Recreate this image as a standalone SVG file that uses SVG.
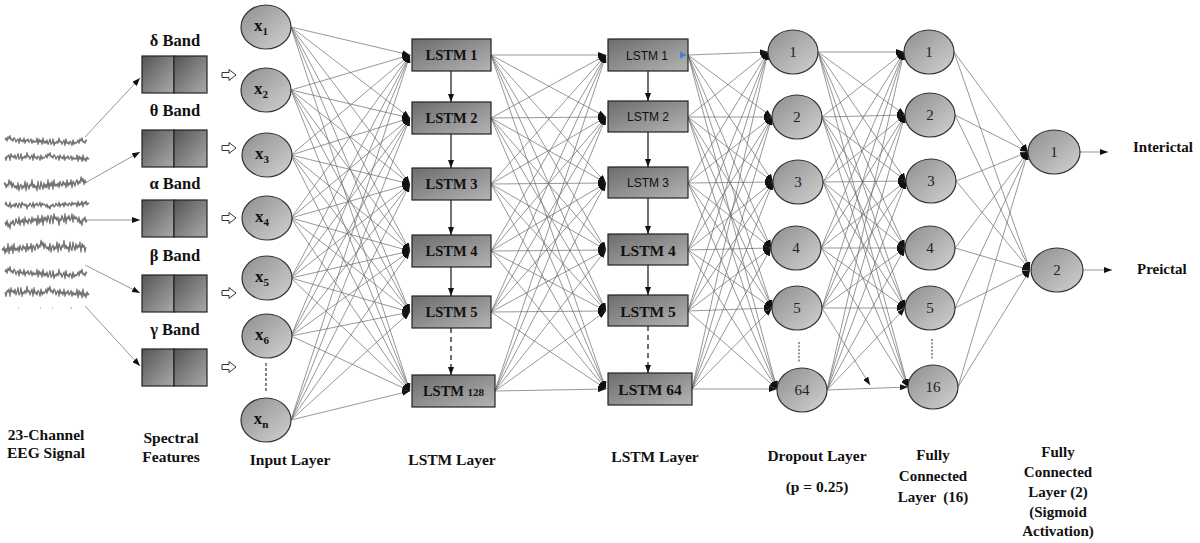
<svg xmlns="http://www.w3.org/2000/svg" width="1200" height="543" viewBox="0 0 1200 543">
<defs>
<linearGradient id="ng" x1="0" y1="0" x2="1" y2="1"><stop offset="0" stop-color="#8e8e8e"/><stop offset="1" stop-color="#d2d2d2"/></linearGradient>
<linearGradient id="bg" x1="0" y1="0" x2="1" y2="1"><stop offset="0" stop-color="#6c6c6c"/><stop offset="1" stop-color="#b4b4b4"/></linearGradient>
<linearGradient id="fg" x1="0" y1="0" x2="1" y2="1"><stop offset="0" stop-color="#555"/><stop offset="1" stop-color="#aaa"/></linearGradient>
<marker id="ah" viewBox="0 0 8 6" refX="8" refY="3" markerWidth="8" markerHeight="6" markerUnits="userSpaceOnUse" orient="auto"><path d="M0,0 L8,3 L0,6 z" fill="#111"/></marker>
<path id="wa" d="M0,0 l1,-2 1,3 1,-4 1,2 1,-3 1,4 1,-1 1,2 1,-3 1,1 1,3 1,-2 1,-1 1,4 1,-5 1,3 1,-1 1,2 1,-4 1,5 1,-3 1,1 1,-2 1,3 1,-1 1,-2 1,4 1,-3 1,2 1,-1 1,1 1,-4 1,6 1,-5 1,3 1,-2 1,4 1,-6 1,5 1,-2 1,2 1,-3 1,4 1,-2 1,-3 1,5 1,-1 1,-4 1,6 1,-3 1,1 1,-2 1,2 1,-5 1,4 1,-1 1,3 1,-2 1,-2 1,5 1,-6 1,4 1,-1 1,2 1,-3 1,1 1,3 1,-5 1,4 1,-2 1,1 1,-1 1,-2 1,3 1,-4 1,2 1,-3 1,4 1,-1 1,2 1,-3 1,1"/>
<path id="wb" d="M0,0 l1,3 1,-4 1,1 1,-2 1,5 1,-6 1,3 1,-1 1,2 1,-3 1,4 1,-2 1,-3 1,5 1,-1 1,-4 1,6 1,-3 1,1 1,-2 1,2 1,-5 1,4 1,-1 1,3 1,-2 1,-2 1,5 1,-6 1,4 1,-1 1,2 1,-3 1,1 1,3 1,-5 1,4 1,-2 1,1 1,-1 1,-2 1,3 1,-4 1,2 1,-3 1,4 1,-1 1,2 1,-3 1,1 1,3 1,-2 1,-1 1,4 1,-5 1,3 1,-1 1,2 1,-4 1,5 1,-3 1,1 1,-2 1,3 1,-1 1,-2 1,4 1,-3 1,2 1,-1 1,1 1,-4 1,6 1,-5 1,3 1,-2 1,4 1,-6 1,5 1,-2 1,3 1,-4 1,2 1,-1"/>
<style>
.t{font-family:"Liberation Serif","Times New Roman",serif;font-weight:bold;fill:#111}
.n{font-family:"Liberation Serif","Times New Roman",serif;fill:#222;font-size:15px}
.s{font-family:"Liberation Sans",Arial,sans-serif;fill:#111}
.c{stroke:#6a6a6a;stroke-width:0.7;fill:none;marker-end:url(#ah)}
.a{stroke:#111;stroke-width:1.2;fill:none;marker-end:url(#ah)}
.w{stroke:#707070;stroke-width:1.2;fill:none;stroke-linejoin:round}
.nd{fill:url(#ng);stroke:#333;stroke-width:1.2}
.bx{fill:url(#bg);stroke:#222;stroke-width:1.2}
.bd{fill:url(#fg);stroke:#222;stroke-width:1.2}
.ha{fill:#fff;stroke:#333;stroke-width:1}
</style>
</defs>
<rect width="1200" height="543" fill="#fff"/>

<g id="eeg">
<use href="#wa" class="w" transform="translate(5,140) scale(1,1.1)"/>
<use href="#wb" class="w" transform="translate(5,157) scale(1,1.1)"/>
<use href="#wa" class="w" transform="translate(86,183) scale(-1,1.5)"/>
<use href="#wb" class="w" transform="translate(5,205) scale(1,-1)"/>
<use href="#wa" class="w" transform="translate(5,222) scale(1,-1.6)"/>
<use href="#wb" class="w" transform="translate(86,247) scale(-1,1.6)"/>
<use href="#wa" class="w" transform="translate(5,272) scale(1,1.3)"/>
<use href="#wb" class="w" transform="translate(5,292) scale(1,1.4)"/>
<path d="M18,308h1M40,308h1M52,308h1M70,308h2" stroke="#999" stroke-width="1"/>
</g>

<g id="bands">
<g id="band-delta"><rect class="bd" x="142" y="56" width="32" height="37"/><rect class="bd" x="174" y="56" width="33" height="37"/><text class="t" font-size="16.5" x="175" y="46" text-anchor="middle">δ Band</text></g>
<g id="band-theta"><rect class="bd" x="142" y="130" width="32" height="37"/><rect class="bd" x="174" y="130" width="33" height="37"/><text class="t" font-size="16.5" x="175" y="116" text-anchor="middle">θ Band</text></g>
<g id="band-alpha"><rect class="bd" x="142" y="200" width="32" height="37"/><rect class="bd" x="174" y="200" width="33" height="37"/><text class="t" font-size="16.5" x="175" y="189" text-anchor="middle">α Band</text></g>
<g id="band-beta"><rect class="bd" x="142" y="275" width="32" height="37"/><rect class="bd" x="174" y="275" width="33" height="37"/><text class="t" font-size="16.5" x="175" y="261" text-anchor="middle">β Band</text></g>
<g id="band-gamma"><rect class="bd" x="142" y="349" width="32" height="37"/><rect class="bd" x="174" y="349" width="33" height="37"/><text class="t" font-size="16.5" x="175" y="335" text-anchor="middle">γ Band</text></g>
</g>

<g id="hollow-arrows">
<polygon class="ha" points="222,72.5 229,72.5 229,69.5 236,75 229,80.5 229,77.5 222,77.5"/>
<polygon class="ha" points="222,145.5 229,145.5 229,142.5 236,148 229,153.5 229,150.5 222,150.5"/>
<polygon class="ha" points="222,215.5 229,215.5 229,212.5 236,218 229,223.5 229,220.5 222,220.5"/>
<polygon class="ha" points="222,290.5 229,290.5 229,287.5 236,293 229,298.5 229,295.5 222,295.5"/>
<polygon class="ha" points="222,364.5 229,364.5 229,361.5 236,367 229,372.5 229,369.5 222,369.5"/>
</g>

<g id="connectors">
<line class="c" x1="85" y1="137" x2="140" y2="78"/>
<line class="c" x1="85" y1="183" x2="140" y2="152"/>
<line class="c" x1="85" y1="220" x2="140" y2="220"/>
<line class="c" x1="85" y1="265" x2="140" y2="293"/>
<line class="c" x1="85" y1="306" x2="140" y2="366"/>

<line class="c" x1="291" y1="27" x2="410" y2="55"/><line class="c" x1="291" y1="27" x2="410" y2="118"/><line class="c" x1="291" y1="27" x2="410" y2="184"/><line class="c" x1="291" y1="27" x2="410" y2="251"/><line class="c" x1="291" y1="27" x2="410" y2="312"/><line class="c" x1="291" y1="27" x2="410" y2="391"/>
<line class="c" x1="291" y1="90" x2="410" y2="55"/><line class="c" x1="291" y1="90" x2="410" y2="118"/><line class="c" x1="291" y1="90" x2="410" y2="184"/><line class="c" x1="291" y1="90" x2="410" y2="251"/><line class="c" x1="291" y1="90" x2="410" y2="312"/><line class="c" x1="291" y1="90" x2="410" y2="391"/>
<line class="c" x1="291" y1="155" x2="410" y2="55"/><line class="c" x1="291" y1="155" x2="410" y2="118"/><line class="c" x1="291" y1="155" x2="410" y2="184"/><line class="c" x1="291" y1="155" x2="410" y2="251"/><line class="c" x1="291" y1="155" x2="410" y2="312"/><line class="c" x1="291" y1="155" x2="410" y2="391"/>
<line class="c" x1="291" y1="218" x2="410" y2="55"/><line class="c" x1="291" y1="218" x2="410" y2="118"/><line class="c" x1="291" y1="218" x2="410" y2="184"/><line class="c" x1="291" y1="218" x2="410" y2="251"/><line class="c" x1="291" y1="218" x2="410" y2="312"/><line class="c" x1="291" y1="218" x2="410" y2="391"/>
<line class="c" x1="291" y1="278" x2="410" y2="55"/><line class="c" x1="291" y1="278" x2="410" y2="118"/><line class="c" x1="291" y1="278" x2="410" y2="184"/><line class="c" x1="291" y1="278" x2="410" y2="251"/><line class="c" x1="291" y1="278" x2="410" y2="312"/><line class="c" x1="291" y1="278" x2="410" y2="391"/>
<line class="c" x1="291" y1="336" x2="410" y2="55"/><line class="c" x1="291" y1="336" x2="410" y2="118"/><line class="c" x1="291" y1="336" x2="410" y2="184"/><line class="c" x1="291" y1="336" x2="410" y2="251"/><line class="c" x1="291" y1="336" x2="410" y2="312"/><line class="c" x1="291" y1="336" x2="410" y2="391"/>
<line class="c" x1="291" y1="420" x2="410" y2="55"/><line class="c" x1="291" y1="420" x2="410" y2="118"/><line class="c" x1="291" y1="420" x2="410" y2="184"/><line class="c" x1="291" y1="420" x2="410" y2="251"/><line class="c" x1="291" y1="420" x2="410" y2="312"/><line class="c" x1="291" y1="420" x2="410" y2="391"/>

<line class="c" x1="491" y1="55" x2="606" y2="55"/><line class="c" x1="491" y1="55" x2="606" y2="117"/><line class="c" x1="491" y1="55" x2="606" y2="183"/><line class="c" x1="491" y1="55" x2="606" y2="250"/><line class="c" x1="491" y1="55" x2="606" y2="311"/><line class="c" x1="491" y1="55" x2="606" y2="389"/>
<line class="c" x1="491" y1="118" x2="606" y2="55"/><line class="c" x1="491" y1="118" x2="606" y2="117"/><line class="c" x1="491" y1="118" x2="606" y2="183"/><line class="c" x1="491" y1="118" x2="606" y2="250"/><line class="c" x1="491" y1="118" x2="606" y2="311"/><line class="c" x1="491" y1="118" x2="606" y2="389"/>
<line class="c" x1="491" y1="184" x2="606" y2="55"/><line class="c" x1="491" y1="184" x2="606" y2="117"/><line class="c" x1="491" y1="184" x2="606" y2="183"/><line class="c" x1="491" y1="184" x2="606" y2="250"/><line class="c" x1="491" y1="184" x2="606" y2="311"/><line class="c" x1="491" y1="184" x2="606" y2="389"/>
<line class="c" x1="491" y1="251" x2="606" y2="55"/><line class="c" x1="491" y1="251" x2="606" y2="117"/><line class="c" x1="491" y1="251" x2="606" y2="183"/><line class="c" x1="491" y1="251" x2="606" y2="250"/><line class="c" x1="491" y1="251" x2="606" y2="311"/><line class="c" x1="491" y1="251" x2="606" y2="389"/>
<line class="c" x1="491" y1="312" x2="606" y2="55"/><line class="c" x1="491" y1="312" x2="606" y2="117"/><line class="c" x1="491" y1="312" x2="606" y2="183"/><line class="c" x1="491" y1="312" x2="606" y2="250"/><line class="c" x1="491" y1="312" x2="606" y2="311"/><line class="c" x1="491" y1="312" x2="606" y2="389"/>
<line class="c" x1="495" y1="391" x2="606" y2="55"/><line class="c" x1="495" y1="391" x2="606" y2="117"/><line class="c" x1="495" y1="391" x2="606" y2="183"/><line class="c" x1="495" y1="391" x2="606" y2="250"/><line class="c" x1="495" y1="391" x2="606" y2="311"/><line class="c" x1="495" y1="391" x2="606" y2="389"/>

<line class="c" x1="688" y1="55" x2="768" y2="52"/><line class="c" x1="688" y1="55" x2="772" y2="117"/><line class="c" x1="688" y1="55" x2="773" y2="182"/><line class="c" x1="688" y1="55" x2="771" y2="248"/><line class="c" x1="688" y1="55" x2="772" y2="308"/><line class="c" x1="688" y1="55" x2="777" y2="389"/>
<line class="c" x1="688" y1="117" x2="768" y2="52"/><line class="c" x1="688" y1="117" x2="772" y2="117"/><line class="c" x1="688" y1="117" x2="773" y2="182"/><line class="c" x1="688" y1="117" x2="771" y2="248"/><line class="c" x1="688" y1="117" x2="772" y2="308"/><line class="c" x1="688" y1="117" x2="777" y2="389"/>
<line class="c" x1="688" y1="183" x2="768" y2="52"/><line class="c" x1="688" y1="183" x2="772" y2="117"/><line class="c" x1="688" y1="183" x2="773" y2="182"/><line class="c" x1="688" y1="183" x2="771" y2="248"/><line class="c" x1="688" y1="183" x2="772" y2="308"/><line class="c" x1="688" y1="183" x2="777" y2="389"/>
<line class="c" x1="688" y1="250" x2="768" y2="52"/><line class="c" x1="688" y1="250" x2="772" y2="117"/><line class="c" x1="688" y1="250" x2="773" y2="182"/><line class="c" x1="688" y1="250" x2="771" y2="248"/><line class="c" x1="688" y1="250" x2="772" y2="308"/><line class="c" x1="688" y1="250" x2="777" y2="389"/>
<line class="c" x1="688" y1="311" x2="768" y2="52"/><line class="c" x1="688" y1="311" x2="772" y2="117"/><line class="c" x1="688" y1="311" x2="773" y2="182"/><line class="c" x1="688" y1="311" x2="771" y2="248"/><line class="c" x1="688" y1="311" x2="772" y2="308"/><line class="c" x1="688" y1="311" x2="777" y2="389"/>
<line class="c" x1="692" y1="389" x2="768" y2="52"/><line class="c" x1="692" y1="389" x2="772" y2="117"/><line class="c" x1="692" y1="389" x2="773" y2="182"/><line class="c" x1="692" y1="389" x2="771" y2="248"/><line class="c" x1="692" y1="389" x2="772" y2="308"/><line class="c" x1="692" y1="389" x2="777" y2="389"/>

<line class="c" x1="818" y1="52" x2="904" y2="52"/><line class="c" x1="818" y1="52" x2="905" y2="115"/><line class="c" x1="818" y1="52" x2="906" y2="181"/><line class="c" x1="818" y1="52" x2="905" y2="248"/><line class="c" x1="818" y1="52" x2="905" y2="308"/><line class="c" x1="818" y1="52" x2="908" y2="387"/>
<line class="c" x1="822" y1="117" x2="904" y2="52"/><line class="c" x1="822" y1="117" x2="905" y2="115"/><line class="c" x1="822" y1="117" x2="906" y2="181"/><line class="c" x1="822" y1="117" x2="905" y2="248"/><line class="c" x1="822" y1="117" x2="905" y2="308"/><line class="c" x1="822" y1="117" x2="908" y2="387"/>
<line class="c" x1="823" y1="182" x2="904" y2="52"/><line class="c" x1="823" y1="182" x2="905" y2="115"/><line class="c" x1="823" y1="182" x2="906" y2="181"/><line class="c" x1="823" y1="182" x2="905" y2="248"/><line class="c" x1="823" y1="182" x2="905" y2="308"/><line class="c" x1="823" y1="182" x2="908" y2="387"/>
<line class="c" x1="821" y1="248" x2="904" y2="52"/><line class="c" x1="821" y1="248" x2="905" y2="115"/><line class="c" x1="821" y1="248" x2="906" y2="181"/><line class="c" x1="821" y1="248" x2="905" y2="248"/><line class="c" x1="821" y1="248" x2="905" y2="308"/><line class="c" x1="821" y1="248" x2="908" y2="387"/>
<line class="c" x1="822" y1="308" x2="904" y2="52"/><line class="c" x1="822" y1="308" x2="905" y2="115"/><line class="c" x1="822" y1="308" x2="906" y2="181"/><line class="c" x1="822" y1="308" x2="905" y2="248"/><line class="c" x1="822" y1="308" x2="905" y2="308"/><line class="c" x1="822" y1="308" x2="870" y2="385"/>
<line class="c" x1="827" y1="390" x2="904" y2="52"/><line class="c" x1="827" y1="390" x2="905" y2="115"/><line class="c" x1="827" y1="390" x2="906" y2="181"/><line class="c" x1="827" y1="390" x2="905" y2="248"/><line class="c" x1="827" y1="390" x2="905" y2="308"/><line class="c" x1="827" y1="390" x2="908" y2="387"/>

<line class="c" x1="954" y1="52" x2="1028" y2="152"/><line class="c" x1="954" y1="52" x2="1030" y2="270"/>
<line class="c" x1="955" y1="115" x2="1028" y2="152"/><line class="c" x1="955" y1="115" x2="1030" y2="270"/>
<line class="c" x1="956" y1="181" x2="1028" y2="152"/><line class="c" x1="956" y1="181" x2="1030" y2="270"/>
<line class="c" x1="955" y1="248" x2="1028" y2="152"/><line class="c" x1="955" y1="248" x2="1030" y2="270"/>
<line class="c" x1="955" y1="308" x2="1028" y2="152"/><line class="c" x1="955" y1="308" x2="1030" y2="270"/>
<line class="c" x1="958" y1="387" x2="1028" y2="152"/><line class="c" x1="958" y1="387" x2="1030" y2="270"/>

<line class="c" x1="1080" y1="152" x2="1108" y2="152"/>
<line class="c" x1="1083" y1="270" x2="1112" y2="270"/>

<line class="a" x1="451" y1="71" x2="451" y2="102"/>
<line class="a" x1="451" y1="134" x2="451" y2="168"/>
<line class="a" x1="451" y1="200" x2="451" y2="235"/>
<line class="a" x1="451" y1="267" x2="451" y2="296"/>
<line class="a" x1="451" y1="328" x2="451" y2="375" stroke-dasharray="5,4"/>
<line class="a" x1="648" y1="71" x2="648" y2="101"/>
<line class="a" x1="648" y1="132" x2="648" y2="167"/>
<line class="a" x1="648" y1="198" x2="648" y2="234"/>
<line class="a" x1="648" y1="265" x2="648" y2="295"/>
<line class="a" x1="648" y1="326" x2="648" y2="373" stroke-dasharray="5,4"/>
</g>

<g id="input-layer">
<g id="x1"><ellipse class="nd" cx="266" cy="27" rx="25" ry="22"/><text class="t" font-size="17" x="261" y="31" text-anchor="middle">x<tspan font-size="11" dy="4">1</tspan></text></g>
<g id="x2"><ellipse class="nd" cx="266" cy="90" rx="25" ry="22"/><text class="t" font-size="17" x="261" y="94" text-anchor="middle">x<tspan font-size="11" dy="4">2</tspan></text></g>
<g id="x3"><ellipse class="nd" cx="267" cy="155" rx="25" ry="22"/><text class="t" font-size="17" x="262" y="159" text-anchor="middle">x<tspan font-size="11" dy="4">3</tspan></text></g>
<g id="x4"><ellipse class="nd" cx="267" cy="218" rx="25" ry="22"/><text class="t" font-size="17" x="262" y="222" text-anchor="middle">x<tspan font-size="11" dy="4">4</tspan></text></g>
<g id="x5"><ellipse class="nd" cx="267" cy="278" rx="25" ry="22"/><text class="t" font-size="17" x="262" y="282" text-anchor="middle">x<tspan font-size="11" dy="4">5</tspan></text></g>
<g id="x6"><ellipse class="nd" cx="267" cy="336" rx="25" ry="22"/><text class="t" font-size="17" x="262" y="340" text-anchor="middle">x<tspan font-size="11" dy="4">6</tspan></text></g>
<line x1="266" y1="363" x2="266" y2="391" stroke="#333" stroke-width="1.2" stroke-dasharray="3,2"/>
<g id="xn"><ellipse class="nd" cx="266" cy="420" rx="25" ry="22"/><text class="t" font-size="17" x="261" y="424" text-anchor="middle">x<tspan font-size="11" dy="4">n</tspan></text></g>
</g>

<g id="lstm-layer-1">
<g id="l1-1"><rect class="bx" x="412" y="39" width="79" height="32"/><text class="t" font-size="14.5" x="451.5" y="60" text-anchor="middle">LSTM 1</text></g>
<g id="l1-2"><rect class="bx" x="412" y="102" width="79" height="32"/><text class="t" font-size="14.5" x="451.5" y="123" text-anchor="middle">LSTM 2</text></g>
<g id="l1-3"><rect class="bx" x="412" y="168" width="79" height="32"/><text class="t" font-size="14.5" x="451.5" y="189" text-anchor="middle">LSTM 3</text></g>
<g id="l1-4"><rect class="bx" x="412" y="235" width="79" height="32"/><text class="t" font-size="14.5" x="451.5" y="256" text-anchor="middle">LSTM 4</text></g>
<g id="l1-5"><rect class="bx" x="412" y="296" width="79" height="32"/><text class="t" font-size="14.5" x="451.5" y="317" text-anchor="middle">LSTM 5</text></g>
<g id="l1-128"><rect class="bx" x="412" y="375" width="83" height="32"/><text class="t" font-size="14.5" x="453.5" y="396" text-anchor="middle">LSTM <tspan font-size="11">128</tspan></text></g>
</g>

<g id="lstm-layer-2">
<g id="l2-1"><rect class="bx" x="608" y="39" width="80" height="32"/><text class="s" font-size="12" x="647" y="59.5" text-anchor="middle">LSTM 1</text><polygon points="680,51.5 687,55 680,58.5" fill="#4a7fd6"/></g>
<g id="l2-2"><rect class="bx" x="608" y="101" width="80" height="31"/><text class="s" font-size="12" x="648" y="121" text-anchor="middle">LSTM 2</text></g>
<g id="l2-3"><rect class="bx" x="608" y="167" width="80" height="31"/><text class="s" font-size="12" x="648" y="187" text-anchor="middle">LSTM 3</text></g>
<g id="l2-4"><rect class="bx" x="608" y="234" width="80" height="31"/><text class="t" font-size="15.5" x="648" y="255.5" text-anchor="middle">LSTM 4</text></g>
<g id="l2-5"><rect class="bx" x="608" y="295" width="80" height="31"/><text class="t" font-size="15.5" x="648" y="316.5" text-anchor="middle">LSTM 5</text></g>
<g id="l2-64"><rect class="bx" x="608" y="373" width="84" height="32"/><text class="t" font-size="15.5" x="650" y="395" text-anchor="middle">LSTM 64</text></g>
</g>

<g id="dropout-layer">
<g id="d1"><ellipse class="nd" cx="793" cy="52" rx="25" ry="22"/><text class="n" x="793" y="57" text-anchor="middle">1</text></g>
<g id="d2"><ellipse class="nd" cx="797" cy="117" rx="25" ry="22"/><text class="n" x="797" y="122" text-anchor="middle">2</text></g>
<g id="d3"><ellipse class="nd" cx="798" cy="182" rx="25" ry="22"/><text class="n" x="798" y="187" text-anchor="middle">3</text></g>
<g id="d4"><ellipse class="nd" cx="796" cy="248" rx="25" ry="22"/><text class="n" x="796" y="253" text-anchor="middle">4</text></g>
<g id="d5"><ellipse class="nd" cx="797" cy="308" rx="25" ry="22"/><text class="n" x="797" y="313" text-anchor="middle">5</text></g>
<line x1="799" y1="342" x2="799" y2="363" stroke="#555" stroke-width="1.2" stroke-dasharray="2,1.5"/>
<g id="d64"><ellipse class="nd" cx="802" cy="390" rx="25" ry="22"/><text class="n" x="802" y="395" text-anchor="middle">64</text></g>
</g>

<g id="fc16-layer">
<g id="f1"><ellipse class="nd" cx="929" cy="52" rx="25" ry="22"/><text class="n" x="929" y="57" text-anchor="middle">1</text></g>
<g id="f2"><ellipse class="nd" cx="930" cy="115" rx="25" ry="22"/><text class="n" x="930" y="120" text-anchor="middle">2</text></g>
<g id="f3"><ellipse class="nd" cx="931" cy="181" rx="25" ry="22"/><text class="n" x="931" y="186" text-anchor="middle">3</text></g>
<g id="f4"><ellipse class="nd" cx="930" cy="248" rx="25" ry="22"/><text class="n" x="930" y="253" text-anchor="middle">4</text></g>
<g id="f5"><ellipse class="nd" cx="930" cy="308" rx="25" ry="22"/><text class="n" x="930" y="313" text-anchor="middle">5</text></g>
<line x1="932" y1="339" x2="932" y2="360" stroke="#555" stroke-width="1.2" stroke-dasharray="2,1.5"/>
<g id="f16"><ellipse class="nd" cx="933" cy="387" rx="25" ry="22"/><text class="n" x="933" y="392" text-anchor="middle">16</text></g>
</g>

<g id="output-layer">
<g id="o1"><ellipse class="nd" cx="1054" cy="152" rx="26" ry="22"/><text class="n" x="1054" y="157" text-anchor="middle">1</text></g>
<g id="o2"><ellipse class="nd" cx="1057" cy="270" rx="26" ry="22"/><text class="n" x="1057" y="275" text-anchor="middle">2</text></g>
<text class="t" font-size="15" x="1133" y="152">Interictal</text>
<text class="t" font-size="15" x="1137" y="274">Preictal</text>
</g>

<g id="labels">
<text class="t" font-size="15.5" text-anchor="middle" x="46" y="440">23-Channel</text>
<text class="t" font-size="15.5" text-anchor="middle" x="46" y="458">EEG Signal</text>
<text class="t" font-size="15.5" text-anchor="middle" x="171" y="443">Spectral</text>
<text class="t" font-size="15.5" text-anchor="middle" x="171" y="462">Features</text>
<text class="t" font-size="15.5" text-anchor="middle" x="290" y="465">Input Layer</text>
<text class="t" font-size="15.5" text-anchor="middle" x="452" y="465">LSTM Layer</text>
<text class="t" font-size="15.5" text-anchor="middle" x="655" y="462">LSTM Layer</text>
<text class="t" font-size="15.5" text-anchor="middle" x="817" y="461">Dropout Layer</text>
<text class="t" font-size="15.5" text-anchor="middle" x="817" y="492">(p = 0.25)</text>
<text class="t" font-size="15" text-anchor="middle" x="933" y="460">Fully</text>
<text class="t" font-size="15" text-anchor="middle" x="933" y="481">Connected</text>
<text class="t" font-size="15" text-anchor="middle" x="933" y="502" xml:space="preserve">Layer  (16)</text>
<text class="t" font-size="15" text-anchor="middle" x="1058" y="457">Fully</text>
<text class="t" font-size="15" text-anchor="middle" x="1058" y="477">Connected</text>
<text class="t" font-size="15" text-anchor="middle" x="1058" y="497">Layer (2)</text>
<text class="t" font-size="15" text-anchor="middle" x="1058" y="517">(Sigmoid</text>
<text class="t" font-size="15" text-anchor="middle" x="1058" y="536">Activation)</text>
</g>
</svg>
